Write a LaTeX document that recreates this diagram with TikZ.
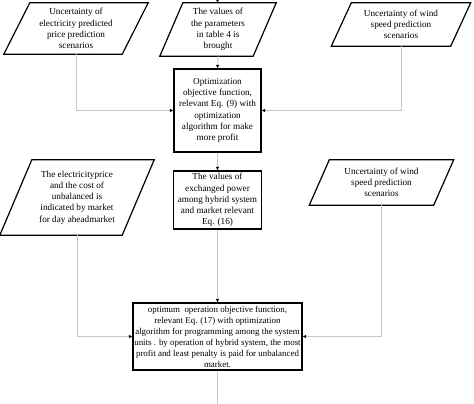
\documentclass[tikz,border=0pt]{standalone}
\usepackage{fontspec}
\setmainfont{Liberation Serif}
\usetikzlibrary{arrows.meta}
\newcommand\paraDraw[2]{\draw[pline] ([xshift=#2]#1.north west) -- ([xshift=#2]#1.north east) -- ([xshift=-#2]#1.south east) -- ([xshift=-#2]#1.south west) -- cycle;}
\begin{document}
\begin{tikzpicture}[x=1pt,y=-1pt,
  txt/.style={font=\fontsize{9.2}{11.2}\selectfont, align=center, inner sep=0pt},
  fintxt/.style={font=\fontsize{8.9}{11}\selectfont, align=center, inner sep=0pt},
  procbox/.style={txt, draw=black, line width=1.2pt, rectangle},
  para/.style={txt, rectangle},
  pline/.style={draw=black, line width=1.2pt, line join=miter},
  conn/.style={draw=black!22, line width=0.9pt},
  arr/.style={conn, -{Latex[black,length=3.5pt,width=3.5pt]}}
]
\useasboundingbox (0,0) rectangle (474,404);

% parallelogram input nodes
\node[para, minimum width=118pt, minimum height=51pt] (tl) at (76,28.5)
  {Uncertainty of\\electricity predicted\\price prediction\\scenarios};
\node[para, minimum width=93pt, minimum height=53pt] (tm) at (218,29.5)
  {The values of\\the parameters\\in table 4 is\\brought};
\node[para, minimum width=119pt, minimum height=43pt] (tr) at (401,24.5)
  {Uncertainty of wind\\speed prediction\\scenarios};
\node[para, minimum width=122pt, minimum height=75pt] (lm) at (77,197.5)
  {The electricityprice\\and the cost of\\unbalanced is\\indicated by market\\for day aheadmarket};
\node[para, minimum width=124pt, minimum height=45pt] (rm) at (381.5,182.5)
  {Uncertainty of wind\\speed prediction\\scenarios};

\paraDraw{tl}{13pt}
\paraDraw{tm}{11.5pt}
\paraDraw{tr}{10pt}
\paraDraw{lm}{16pt}
\paraDraw{rm}{10pt}

% process boxes
\node[procbox, minimum width=87pt, minimum height=83pt] (opt) at (217.5,110.5)
  {Optimization\\objective function,\\relevant Eq. (9) with\\optimization\\algorithm for make\\more profit};
\node[procbox, minimum width=88pt, minimum height=58pt] (exch) at (217.5,200)
  {The values of\\exchanged power\\among hybrid system\\and market relevant\\Eq. (16)};
\node[procbox, fintxt, minimum width=169pt, minimum height=67pt] (fin) at (217.5,336.5)
  {optimum\ \ operation objective function,\\relevant Eq. (17) with optimization\\algorithm for programming among the system\\units . by operation of hybrid system, the most\\profit and least penalty is paid for unbalanced\\market.};

\coordinate (topin) at (217.5,0);
\coordinate (botout) at (217.5,404);

% connectors
\draw[arr] (topin) -- (tm.north);
\draw[arr] (tm.south) -- (opt.north);
\draw[arr] (tl.south) |- (opt.west);
\draw[arr] (tr.south) |- (opt.east);
\draw[arr] (opt.south) -- (exch.north);
\draw[arr] (exch.south) -- (fin.north);
\draw[arr] (lm.south) |- (fin.west);
\draw[arr] (rm.south) |- (fin.east);
\draw[conn] (fin.south) -- (botout);
\end{tikzpicture}
\end{document}
